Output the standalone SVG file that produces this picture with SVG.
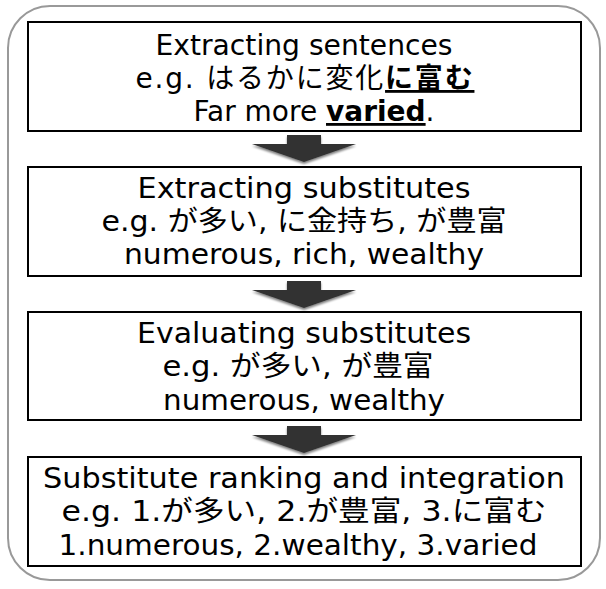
<svg xmlns="http://www.w3.org/2000/svg" width="606" height="589" viewBox="0 0 606 589">
<defs>
<style>
.box{fill:#fff;stroke:#000;stroke-width:2}
.t{font-family:"DejaVu Sans","Noto Sans CJK JP",sans-serif;font-size:28px;fill:#000;text-anchor:middle}
.b{font-weight:bold;text-decoration:underline}
.arr{fill:#333}
</style>
<filter id="sh" x="-20%" y="-20%" width="140%" height="160%">
<feGaussianBlur in="SourceAlpha" stdDeviation="1.2"/>
<feOffset dy="1.5" result="o"/>
<feComponentTransfer><feFuncA type="linear" slope="0.5"/></feComponentTransfer>
<feMerge><feMergeNode/><feMergeNode in="SourceGraphic"/></feMerge>
</filter>
<path id="ar" d="M-17,0 H17 V9 H52 L0,27 L-52,9 H-17 Z"/>
</defs>
<rect x="8" y="6" width="592" height="574" rx="42" ry="42" fill="#fff" stroke="#999" stroke-width="2"/>
<g id="connectors">
<use href="#ar" class="arr" x="304" y="135" filter="url(#sh)"/>
<use href="#ar" class="arr" x="304" y="281" filter="url(#sh)"/>
<use href="#ar" class="arr" x="304" y="426" filter="url(#sh)"/>
</g>
<g id="n1">
<rect class="box" x="28" y="22" width="553" height="109"/>
<text class="t" x="304" y="55" textLength="297" lengthAdjust="spacingAndGlyphs">Extracting sentences</text>
<text class="t" x="305" y="88" letter-spacing="1.8">e.g. はるかに変化<tspan class="b">に富む</tspan></text>
<text class="t" x="314" y="121">Far more <tspan class="b">varied</tspan>.</text>
</g>
<g id="n2">
<rect class="box" x="28" y="167" width="553" height="109"/>
<text class="t" x="304" y="198" textLength="333" lengthAdjust="spacingAndGlyphs">Extracting substitutes</text>
<text class="t" x="304" y="231" textLength="405" lengthAdjust="spacingAndGlyphs">e.g. が多い, に金持ち, が豊富</text>
<text class="t" x="304" y="264" textLength="360" lengthAdjust="spacingAndGlyphs">numerous, rich, wealthy</text>
</g>
<g id="n3">
<rect class="box" x="28" y="312" width="553" height="108"/>
<text class="t" x="304" y="343" textLength="334" lengthAdjust="spacingAndGlyphs">Evaluating substitutes</text>
<text class="t" x="298" y="376" textLength="271" lengthAdjust="spacingAndGlyphs">e.g. が多い, が豊富</text>
<text class="t" x="304" y="410" textLength="282" lengthAdjust="spacingAndGlyphs">numerous, wealthy</text>
</g>
<g id="n4">
<rect class="box" x="28" y="457" width="553" height="109"/>
<text class="t" x="304" y="488" textLength="522" lengthAdjust="spacingAndGlyphs">Substitute ranking and integration</text>
<text class="t" x="304" y="521" textLength="485" lengthAdjust="spacingAndGlyphs">e.g. 1.が多い, 2.が豊富, 3.に富む</text>
<text class="t" x="298" y="555" textLength="479" lengthAdjust="spacingAndGlyphs">1.numerous, 2.wealthy, 3.varied</text>
</g>
</svg>
